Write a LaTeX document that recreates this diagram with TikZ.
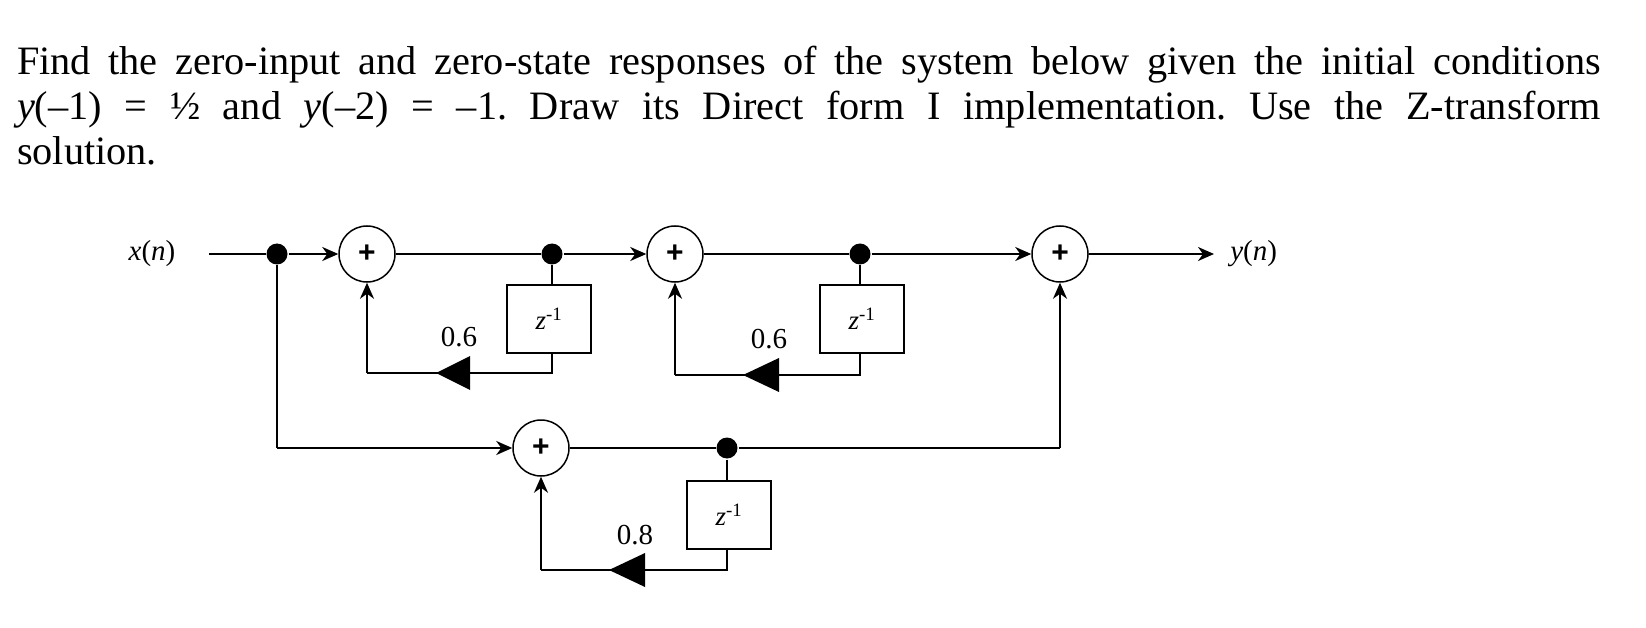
\documentclass[tikz,border=0pt]{standalone}
\usepackage{fontspec}
\setmainfont{Liberation Serif}
\newfontfamily\sansb{Liberation Sans}
\usetikzlibrary{arrows.meta}
\begin{document}
\frenchspacing
\begin{tikzpicture}[x=1pt,y=-1pt,line width=2pt,
  sum/.style={circle,draw,line width=1.5pt,minimum size=56pt,inner sep=0pt,font=\sansb\bfseries\fontsize{30}{30}\selectfont},
  dot/.style={circle,fill,inner sep=0pt,minimum size=21pt},
  dl/.style={draw,line width=2pt,minimum width=84pt,minimum height=68pt,inner sep=0pt,font=\fontsize{27}{27}\selectfont},
  lab/.style={font=\fontsize{29}{29}\selectfont},
  arr/.style={-{Stealth[length=16pt,width=14pt,inset=5pt]}},
  txt/.style={anchor=base west,inner sep=0pt,font=\fontsize{40.3}{45}\selectfont}]
\useasboundingbox (0,0) rectangle (1646,628);
\node[txt] (t1) at (16,75) {\makebox[1584pt][s]{Find the zero-input and zero-state responses of the system below given the initial conditions}};
\node[txt] (t2) at (16,120) {\makebox[1584pt][s]{\textit{y}(–1) = ½ and \textit{y}(–2) = –1. Draw its Direct form I implementation. Use the Z-transform}};
\node[txt] (t3) at (16,165) {solution.};
% nodes
\node[lab] (xn) at (152,254) {\textit{x}(\textit{n})};
\coordinate (xs) at (209,254);
\node[dot] (d1) at (277,254) {};
\node[sum] (s1) at (367,254) {+};
\node[dot] (d2) at (552,254) {};
\node[dl] (z1) at (549,319) {\textit{z}\textsuperscript{-1}};
\node[lab] (g1) at (459,337) {0.6};
\coordinate (f1r) at (552,373);
\coordinate (f1l) at (367,373);
\node[sum] (s2) at (675,254) {+};
\node[dot] (d3) at (860,254) {};
\node[dl] (z2) at (862,319) {\textit{z}\textsuperscript{-1}};
\node[lab] (g2) at (769,339) {0.6};
\coordinate (f2r) at (860,375);
\coordinate (f2l) at (675,375);
\node[sum] (s3) at (1060,254) {+};
\node[lab,anchor=west] (yn) at (1226,254) {\textit{y}(\textit{n})};
\node[sum] (s4) at (541,448) {+};
\node[dot] (d4) at (727,448) {};
\node[dl] (z3) at (729,515) {\textit{z}\textsuperscript{-1}};
\node[lab] (g3) at (635,535) {0.8};
\coordinate (f3r) at (727,570);
\coordinate (f3l) at (541,570);
\coordinate (bl) at (277,448);
\coordinate (br) at (1060,448);
% connectors
\draw (xs) -- (d1);
\draw[arr] (d1) -- (s1);
\draw (s1) -- (d2);
\draw[arr] (d2) -- (s2);
\draw (s2) -- (d3);
\draw[arr] (d3) -- (s3);
\draw[arr,shorten >=12pt] (s3) -- (yn);
\draw (d2) -- (z1.north -| d2);
\draw (d3) -- (z2.north -| d3);
\draw (d4) -- (z3.north -| d4);
\draw (z1.south -| d2) -- (f1r) -- (f1l);
\draw[arr] (f1l) -- (s1);
\draw (z2.south -| d3) -- (f2r) -- (f2l);
\draw[arr] (f2l) -- (s2);
\draw (z3.south -| d4) -- (f3r) -- (f3l);
\draw[arr] (f3l) -- (s4);
\draw (d1) -- (bl);
\draw[arr] (bl) -- (s4);
\draw (s4) -- (d4) -- (br);
\draw[arr] (br) -- (s3);
% gain triangles
\fill (436,373) -- (470,356) -- (470,390) -- cycle;
\fill (743,375) -- (779,358) -- (779,392) -- cycle;
\fill (609,570) -- (645,553) -- (645,587) -- cycle;
\end{tikzpicture}
\end{document}
